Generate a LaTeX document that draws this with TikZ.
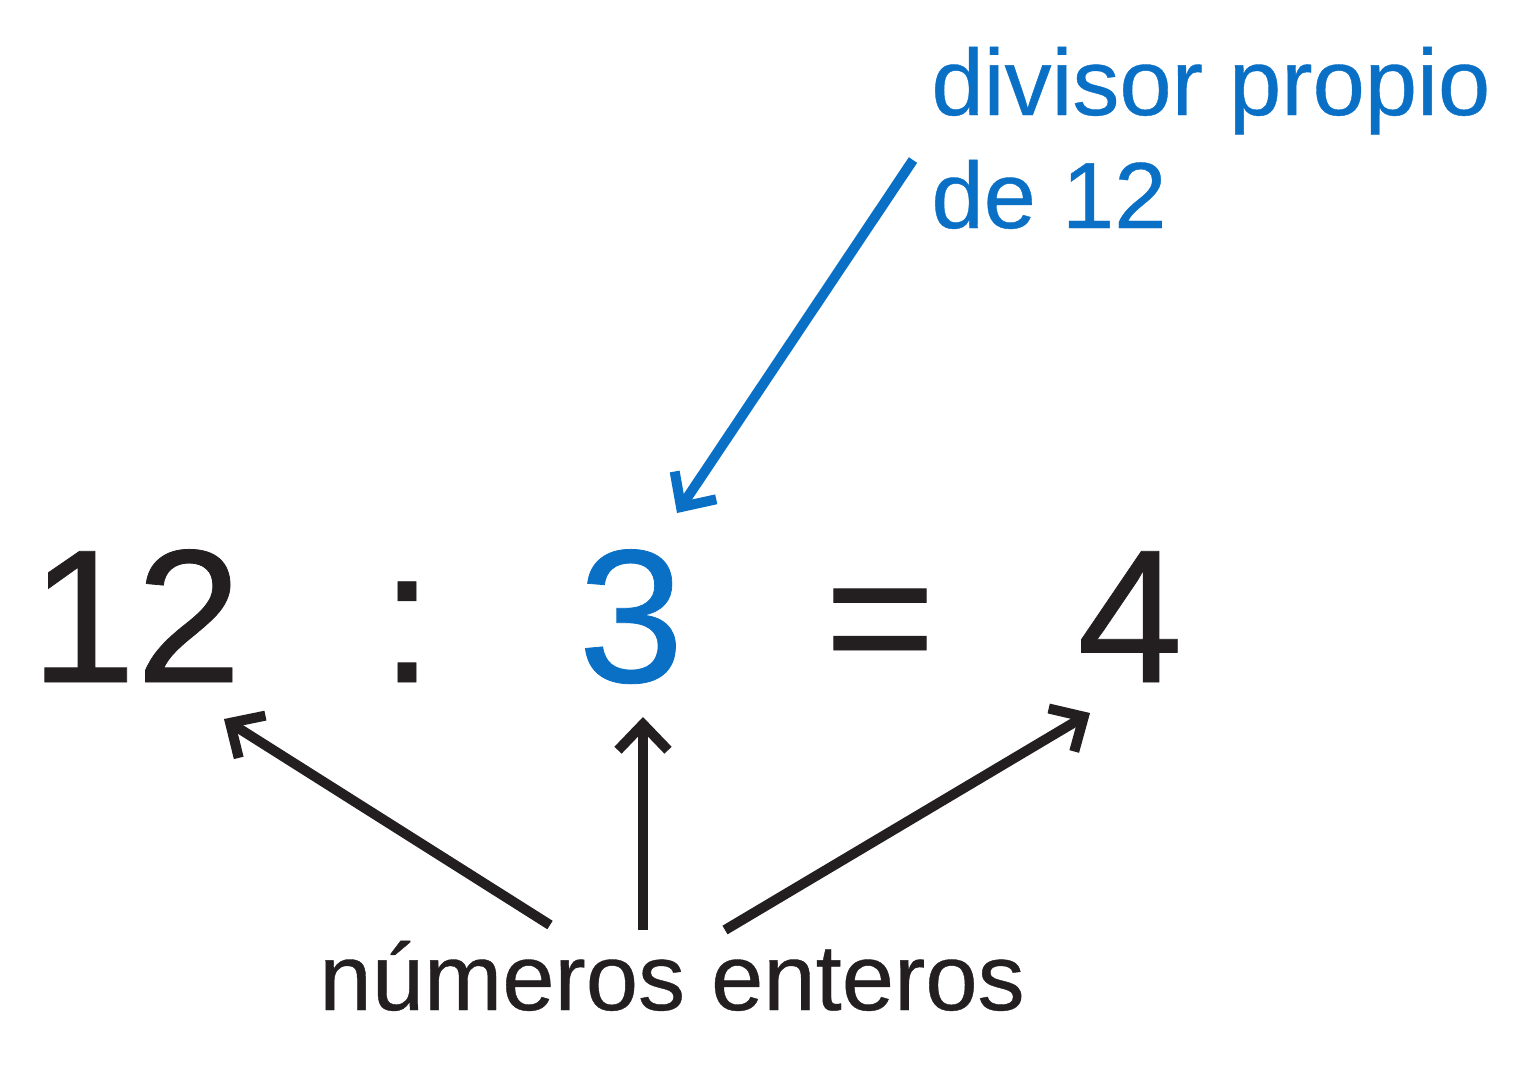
\documentclass[tikz,border=0pt]{standalone}
\usepackage{fontspec}
\setmainfont[FakeBold=0.4]{Liberation Sans}
\usetikzlibrary{arrows.meta}
\definecolor{azul}{RGB}{10,112,198}
\definecolor{negro}{RGB}{35,31,32}
\tikzset{
	flecha/.style={line width=5pt, -{Straight Barb[length=13pt,width=25pt,sharp]}},
	grande/.style={inner sep=0pt, font=\fontsize{95}{114}\selectfont},
	texto/.style={inner sep=0pt, font=\fontsize{47}{56}\selectfont},
}
\begin{document}
\begin{tikzpicture}[x=0.5pt, y=-0.5pt]
		%%%%% START %%%%%
		\useasboundingbox (0, 0) rectangle (1536, 1084);
		
		\node[grande, color=negro, anchor=base] (doce) at (136, 682) {12};
		\node[grande, color=negro, anchor=base] (dospuntos) at (407, 682) {:};
		\node[grande, color=azul, anchor=base] (tres) at (631, 682) {3};
		\node[grande, color=negro, anchor=base] (igual) at (880, 682) {=};
		\node[grande, color=negro, anchor=base] (cuatro) at (1130, 682) {4};
		
		\node[texto, color=azul, anchor=base west] (divisor) at (931, 115) {divisor propio};
		\node[texto, color=azul, anchor=base west] (dedoce) at (931, 228) {de 12};
		
		\node[texto, color=negro, anchor=base west] (enteros) at (319, 1010) {números enteros};
		
		\coordinate (inicioazul) at (913, 160);
		\coordinate (puntaazul) at (677, 513);
		\draw[flecha, color=azul] (inicioazul) -- (puntaazul);
		
		\coordinate (izq) at (550, 925);
		\coordinate (centro) at (643, 930);
		\coordinate (der) at (725, 930);
		\coordinate (puntadoce) at (224, 719);
		\coordinate (puntatres) at (643, 717);
		\coordinate (puntacuatro) at (1090, 713);
		\draw[flecha, color=negro] (izq) -- (puntadoce);
		\draw[flecha, color=negro] (centro) -- (puntatres);
		\draw[flecha, color=negro] (der) -- (puntacuatro);
		
		%%%%% END %%%%%
\end{tikzpicture}
\end{document}
